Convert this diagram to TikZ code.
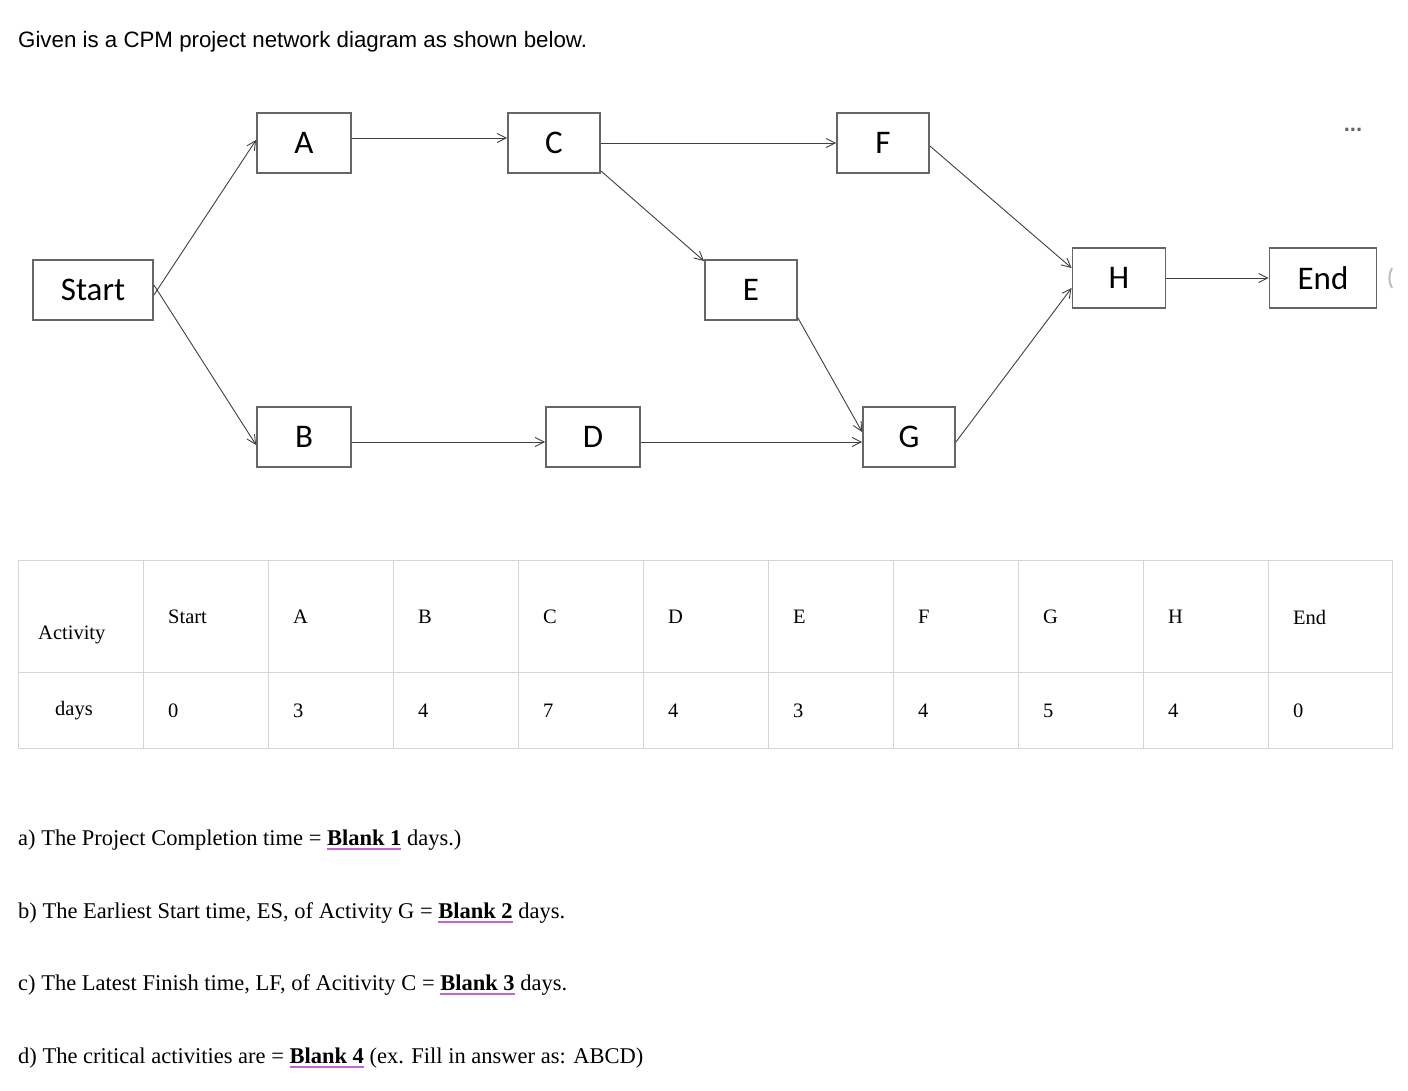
\documentclass[tikz,border=0pt]{standalone}
\usepackage{fontspec}
\setmainfont{Liberation Serif}
\newfontfamily\arialf{Liberation Sans}
\newfontfamily\boxfont{Carlito}
\usetikzlibrary{arrows.meta}
\definecolor{ulpurple}{HTML}{C266D6}
\definecolor{boxgray}{HTML}{666666}
\definecolor{tblgray}{HTML}{D6D6D6}
\newcommand\blankul[1]{\setbox0\hbox{\bfseries #1}\rlap{\color{ulpurple}\rule[-5pt]{\wd0}{2.5pt}}\box0\relax}
\tikzset{
  act/.style={draw=boxgray, line width=1.8pt, fill=white, minimum height=60pt, font=\boxfont\fontsize{33}{36}\selectfont, inner sep=0pt},
  arr/.style={draw=black!75, line width=0.9pt, -{Straight Barb[length=9pt,width=9pt]}},
  ttxt/.style={anchor=west, font=\fontsize{20.5}{24}\selectfont, inner sep=0pt},
  qtxt/.style={anchor=west, font=\fontsize{22.5}{26}\selectfont, inner sep=0pt}
}
\begin{document}
\begin{tikzpicture}[x=1pt,y=-1pt]
\useasboundingbox (0,0) rectangle (1408,1090);
\fill[white] (0,0) rectangle (1408,1090);
\node[anchor=west, inner sep=0pt, font=\arialf\fontsize{22.3}{26}\selectfont] (title) at (18,42) {Given is a CPM project network diagram as shown below.};
% nodes
\node[act, minimum width=120pt] (S) at (93,290) {Start};
\node[act, minimum width=94pt] (A) at (304,143) {A};
\node[act, minimum width=92pt] (C) at (554,143) {C};
\node[act, minimum width=92pt] (F) at (883,143) {F};
\node[act, minimum width=92pt] (E) at (751,290) {E};
\node[act, minimum width=93pt] (H) at (1119,278) {H};
\node[act, minimum width=107pt] (End) at (1323,278) {End};
\node[act, minimum width=94pt] (B) at (304,437) {B};
\node[act, minimum width=94pt] (D) at (593,437) {D};
\node[act, minimum width=92pt] (G) at (909,437) {G};
% edges
\draw[arr] ([yshift=-5pt]S.east) -- ([yshift=3pt]A.west);
\draw[arr] ([yshift=5pt]S.east) -- ([yshift=-8pt]B.west);
\draw[arr] ([yshift=5pt]A.east) -- ([yshift=5pt]C.west);
\draw[arr] (C.east) -- (F.east -| F.west);
\draw[arr] ([yshift=3pt]C.south east) -- ([yshift=-2pt]E.north west);
\draw[arr] ([yshift=-3pt]F.east) -- ([yshift=10pt]H.west);
\draw[arr] ([yshift=3pt]E.south east) -- ([yshift=5pt]G.west);
\draw[arr] ([yshift=-5pt]G.east) -- ([yshift=-10pt]H.west);
\draw[arr] (H.east) -- (End.west);
\draw[arr] ([yshift=-5pt]B.east) -- ([yshift=-5pt]D.west);
\draw[arr] ([yshift=-5pt]D.east) -- ([yshift=-5pt]G.west);
% extras
\node[text=black!60, font=\arialf\fontsize{22}{24}\selectfont\bfseries, inner sep=0pt] (dots) at (1353,130) {...};
\draw[black!25, line width=2pt] (1392,268) arc[start angle=150, end angle=210, radius=20pt];
% table
\draw[tblgray, line width=1pt] (18,560) rectangle (1392,748);
\draw[tblgray, line width=1pt] (18,672) -- (1392,672);
\foreach \x in {143,268,393,518,643,768,893,1018,1143,1268}
  \draw[tblgray, line width=1pt] (\x,560) -- (\x,748);
\node[ttxt] (hAct) at (38,635) {Activity};
\node[ttxt] (hdays) at (55,711) {days};
\foreach \x/\t/\d [count=\i] in {143/Start/0,268/A/3,393/B/4,518/C/7,643/D/4,768/E/3,893/F/4,1018/G/5,1143/H/4,1268/End/0}{
  \node[ttxt] (h\i) at (\x+25,617) {\t};
  \node[ttxt] (d\i) at (\x+25,711) {\d};
}
% questions
\node[qtxt] (qa) at (18,840) {a) The Project Completion time = \blankul{Blank 1} days.)};
\node[qtxt] (qb) at (18,913) {b) The Earliest Start time, ES, of Activity G = \blankul{Blank 2} days.};
\node[qtxt] (qc) at (18,985) {c) The Latest Finish time, LF, of Acitivity C = \blankul{Blank 3} days.};
\node[qtxt] (qd) at (18,1058) {d) The critical activities are = \blankul{Blank 4} (ex. Fill in answer as: ABCD)};
\end{tikzpicture}
\end{document}
